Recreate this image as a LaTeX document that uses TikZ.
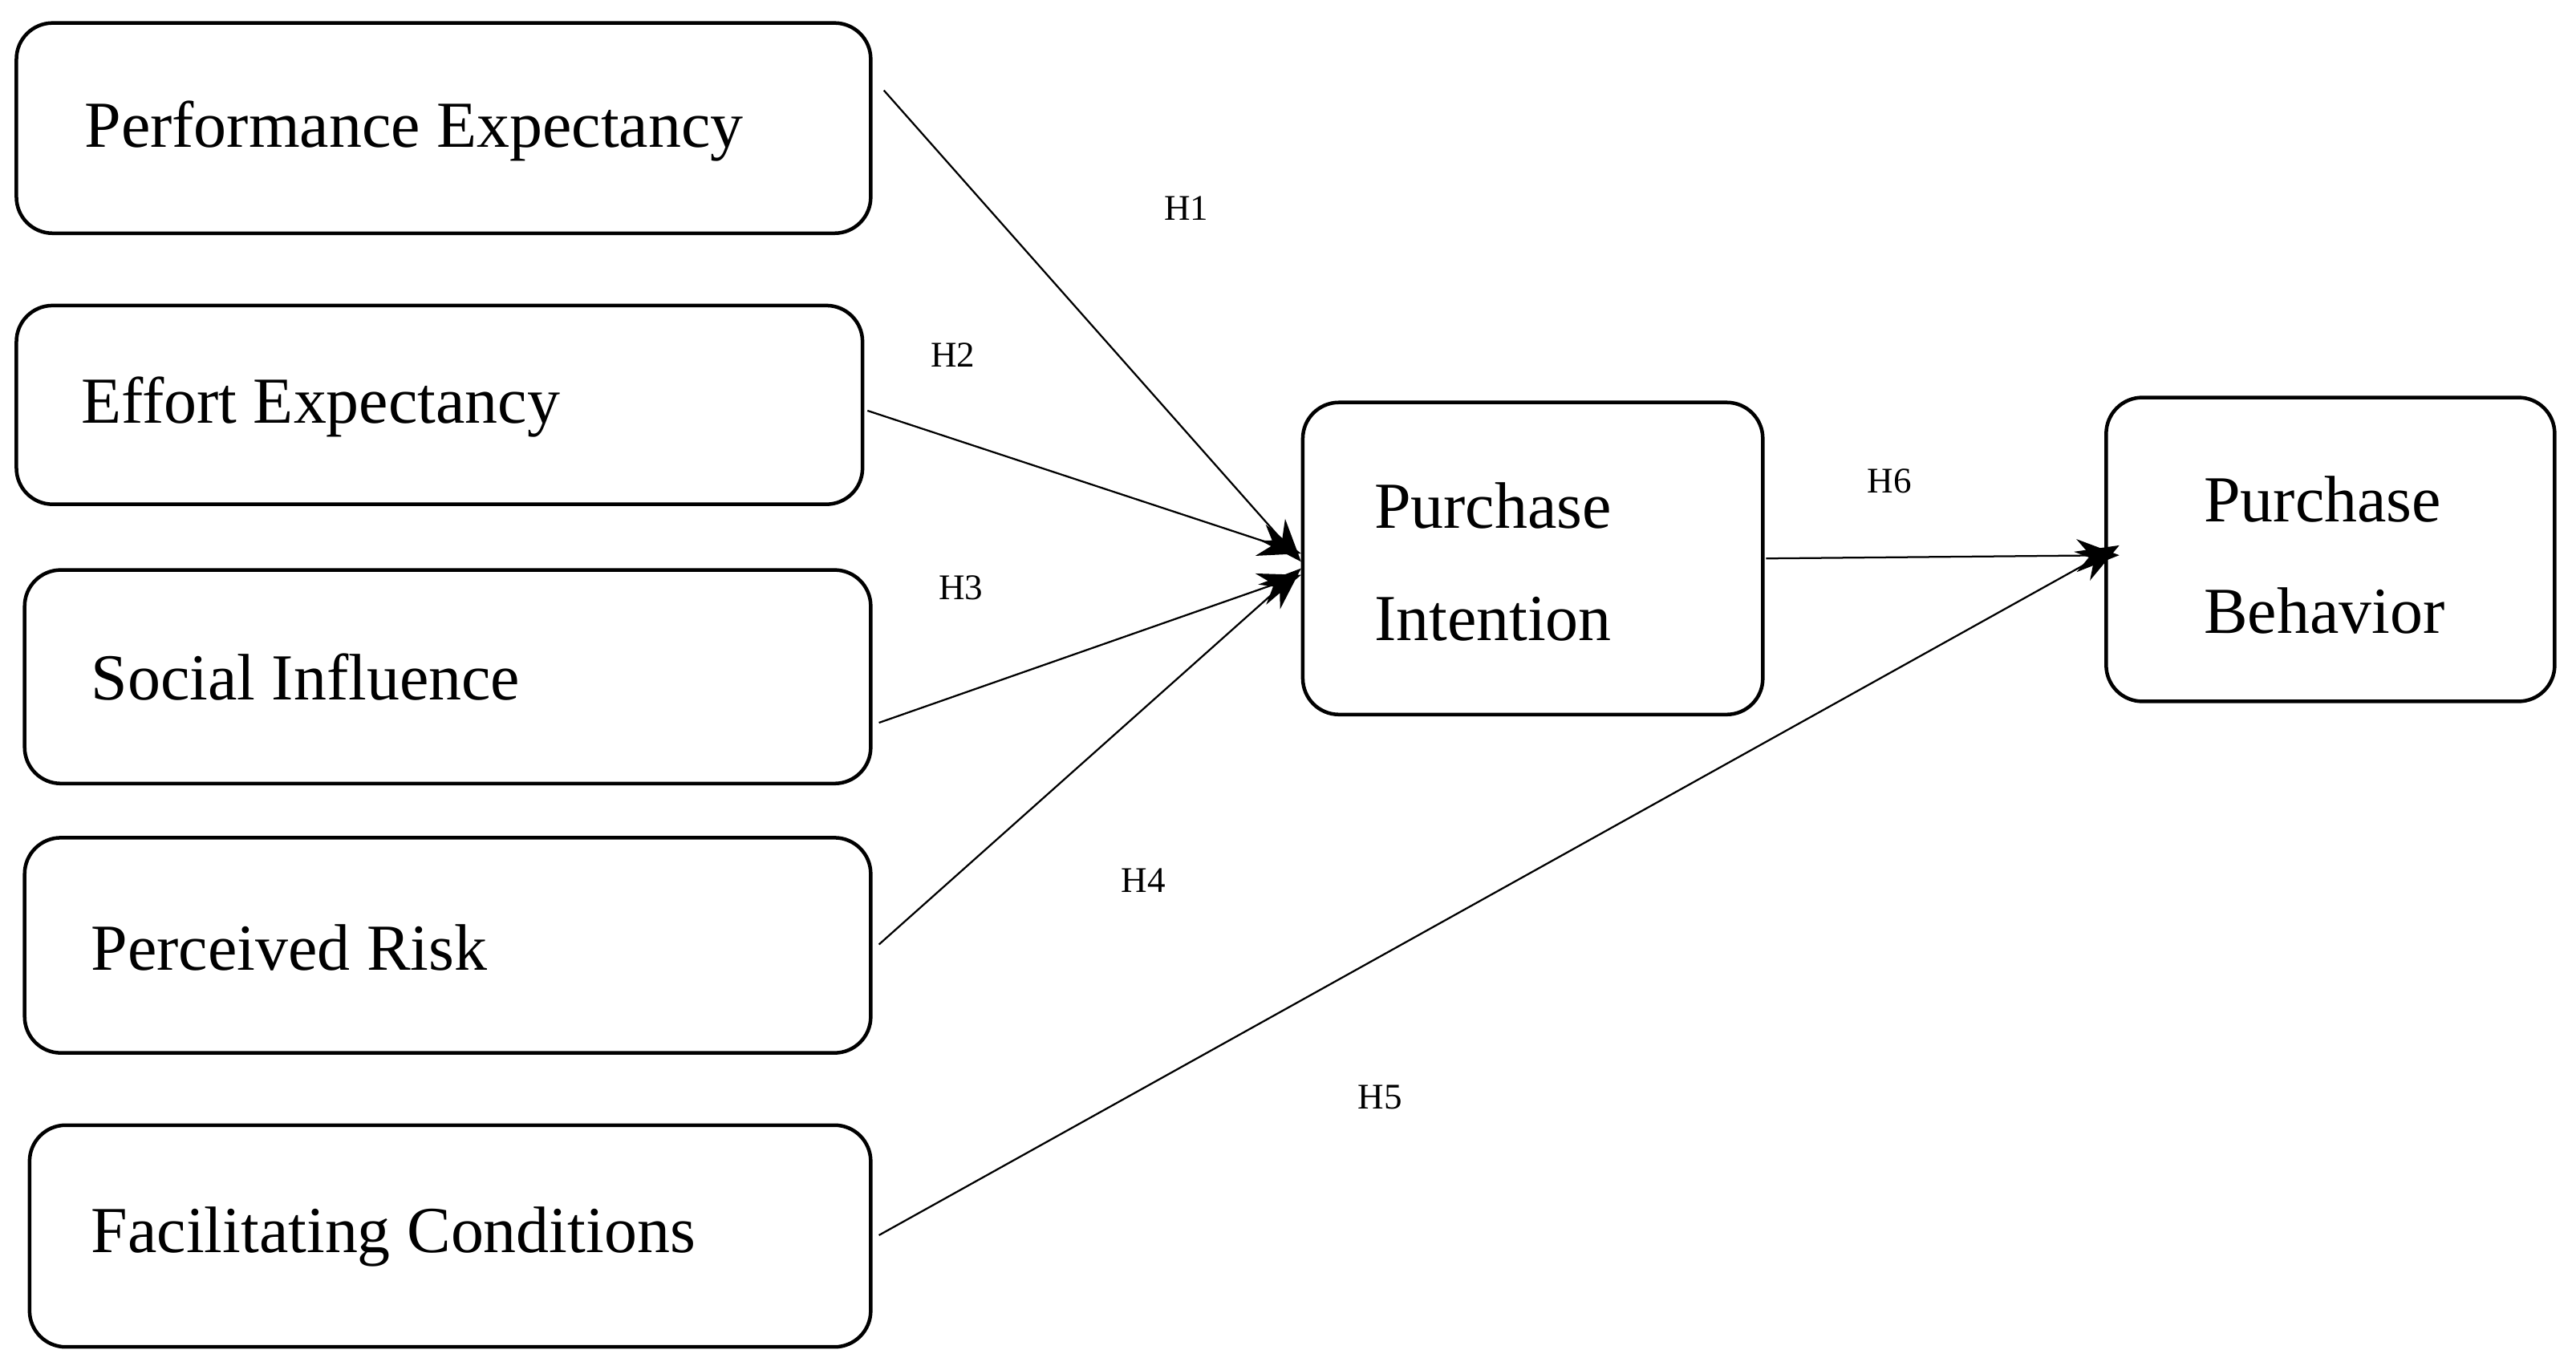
\documentclass[tikz,border=0pt]{standalone}
\usepackage{fontspec}
\setmainfont{Liberation Serif}
\usetikzlibrary{arrows.meta}
\begin{document}
\begin{tikzpicture}[x=1pt,y=-1pt,
 box/.style={draw,line width=2.2pt,rounded corners=22pt,inner sep=0pt},
 bt/.style={font=\fontsize{40}{50}\selectfont,anchor=west},
 ct/.style={font=\fontsize{40}{68}\selectfont,align=left,anchor=west},
 lb/.style={font=\fontsize{22}{26}\selectfont},
 arr/.style={line width=1.1pt,-{Stealth[length=26pt,width=20pt]}}]
\useasboundingbox (0,0) rectangle (1568,834);
\node[box,minimum width=520pt,minimum height=128pt] (pe) at (270,78) {};
\node[box,minimum width=515pt,minimum height=121pt] (ee) at (267.5,246.5) {};
\node[box,minimum width=515pt,minimum height=130pt] (si) at (272.5,412) {};
\node[box,minimum width=515pt,minimum height=131pt] (pr) at (272.5,575.5) {};
\node[box,minimum width=512pt,minimum height=135pt] (fc) at (274,752.5) {};
\node[box,minimum width=280pt,minimum height=190pt] (pi) at (933,340) {};
\node[box,minimum width=273pt,minimum height=185pt] (pb) at (1418.5,334.5) {};
\node[bt] at (48,80) {Performance Expectancy};
\node[bt] at (46,248) {Effort Expectancy};
\node[bt] at (52,412) {Social Influence};
\node[bt] at (52,577) {Perceived Risk};
\node[bt] at (52,753) {Facilitating Conditions};
\node[ct] at (833,342) {Purchase\\Intention};
\node[ct] at (1338,338) {Purchase\\Behavior};
\coordinate (s1) at (538,55);
\coordinate (s2) at (528,250);
\coordinate (s3) at (535,440);
\coordinate (s4) at (535,575);
\coordinate (s5) at (535,752);
\coordinate (t1) at (792,342);
\coordinate (t2) at (792,337);
\coordinate (t3) at (792,350);
\coordinate (t4) at (792,346);
\coordinate (t5) at (1290,332);
\coordinate (s6) at (1075,340);
\coordinate (t6) at (1290,338);
\draw[arr] (s1) -- (t1);
\draw[arr] (s2) -- (t2);
\draw[arr] (s3) -- (t3);
\draw[arr] (s4) -- (t4);
\draw[arr] (s5) -- (t5);
\draw[arr] (s6) -- (t6);
\node[lb] (h1) at (722,127) {H1};
\node[lb] (h2) at (580,216) {H2};
\node[lb] (h3) at (585,358) {H3};
\node[lb] (h4) at (696,536) {H4};
\node[lb] (h5) at (840,668) {H5};
\node[lb] (h6) at (1150,293) {H6};
\end{tikzpicture}
\end{document}
